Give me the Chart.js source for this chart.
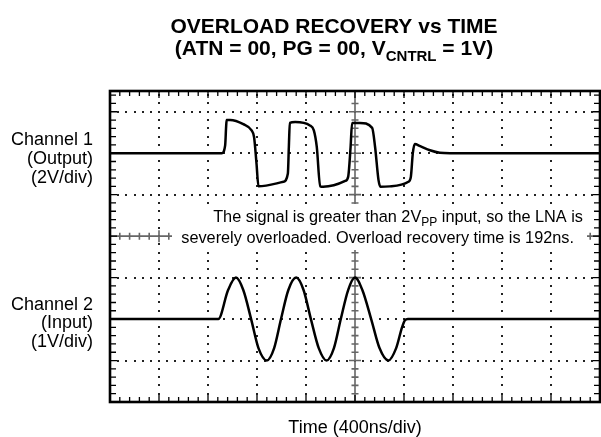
<!DOCTYPE html>
<html>
<head>
<meta charset="utf-8">
<script src="https://cdn.jsdelivr.net/npm/chart.js@4/dist/chart.umd.min.js"></script>
<style>
  body { margin: 0; background: #ffffff; }
  canvas { display: block; }
</style>
</head>
<body>
<canvas id="grafico-overload" width="601" height="437"></canvas>
<script>
// time in divisions (400ns/div), amplitude in divisions from the screen centre
const ch1Time = [0, 2.28, 2.35, 2.37, 2.38, 2.45, 2.72, 2.89, 2.94, 2.99, 3.03, 3.54, 3.63, 3.65, 3.67, 3.78,
                 4.08, 4.16, 4.22, 4.29, 4.35, 4.80, 4.86, 4.91, 4.94, 5.10, 5.35, 5.41, 5.48, 5.52, 5.71,
                 6.09, 6.14, 6.18, 6.22, 6.33, 6.53, 6.73, 6.94, 10];
const ch1Div  = [2, 2, 2.19, 2.64, 2.80, 2.80, 2.70, 2.55, 2.39, 1.75, 1.20, 1.31, 1.51, 2.15, 2.73, 2.75,
                 2.67, 2.55, 2.15, 1.20, 1.19, 1.33, 1.43, 2.15, 2.73, 2.73, 2.61, 2.15, 1.35, 1.19, 1.20,
                 1.31, 1.43, 2.00, 2.22, 2.17, 2.07, 2.01, 2.00, 2];

const ch2Time = [0, 2.21, 2.41, 2.57, 2.72, 2.88, 3.03, 3.20, 3.35, 3.49, 3.64, 3.80, 3.95, 4.10, 4.26,
                 4.42, 4.57, 4.71, 4.86, 5.00, 5.15, 5.33, 5.50, 5.68, 5.84, 5.96, 6.02, 6.08, 10];
const ch2Div  = [-2, -2, -1.30, -1.0, -1.3, -2.0, -2.7, -3.0, -2.7, -2.0, -1.3, -1.0, -1.3, -2.0, -2.7,
                 -3.0, -2.7, -2.0, -1.3, -1.0, -1.3, -2.0, -2.7, -3.0, -2.7, -2.2, -2.03, -2.0, -2];

// screen: 10 horizontal divisions, vertical from -4 to +3.5 divisions
const xDivs = [0, 10];
const yDivs = [-4, 3.5];

const channelLabels = [
    ['Channel 1', '(Output)', '(2V/div)'],
    ['Channel 2', '(Input)', '(1V/div)']
];
const channelBaselines = [[145, 164, 183], [310, 328, 347]];

const fonte = '"Liberation Sans", Arial, Helvetica, sans-serif';

function pontos(xs, ys) {
    return xs.map((v, i) => ({ x: v, y: ys[i] }));
}

// writes a line made of pieces, some of them as subscripts
function textoRico(ctx, partes, x, y, tam, peso, alinhar) {
    const subTam = Math.round(tam * 0.72);
    let largura = 0;
    partes.forEach(p => {
        ctx.font = peso + ' ' + (p.sub ? subTam : tam) + 'px ' + fonte;
        largura += ctx.measureText(p.t).width;
    });
    let cx = alinhar === 'center' ? x - largura / 2 : (alinhar === 'right' ? x - largura : x);
    ctx.textAlign = 'left';
    ctx.textBaseline = 'alphabetic';
    partes.forEach(p => {
        ctx.font = peso + ' ' + (p.sub ? subTam : tam) + 'px ' + fonte;
        ctx.fillText(p.t, cx, p.sub ? y + tam * 0.28 : y);
        cx += ctx.measureText(p.t).width;
    });
}

const graticula = {
    id: 'graticula',
    beforeDatasetsDraw(chart) {
        const { ctx, chartArea: a, scales: { x, y } } = chart;
        ctx.save();

        // dotted division lines
        ctx.fillStyle = '#222';
        for (let i = 1; i < 10; i++) {
            if (i === 5) continue;
            const px = Math.round(x.getPixelForValue(i));
            for (let k = 0; k <= 37; k++) {
                const py = y.getPixelForValue(yDivs[0] + k * 0.2);
                ctx.fillRect(px - 1, Math.round(py) - 1, 2, 2);
            }
        }
        for (let j = -3; j <= 3; j++) {
            if (j === 0) continue;
            const py = Math.round(y.getPixelForValue(j));
            for (let k = 0; k <= 60; k++) {
                const px = x.getPixelForValue(k / 6);
                ctx.fillRect(Math.round(px) - 1, py - 1, 2, 2);
            }
        }

        // centre axes with small ticks
        const cx = x.getPixelForValue(5);
        const cy = y.getPixelForValue(0);
        ctx.strokeStyle = '#666';
        ctx.lineWidth = 1.6;
        ctx.beginPath();
        ctx.moveTo(cx, a.top); ctx.lineTo(cx, a.bottom);
        ctx.moveTo(a.left, cy); ctx.lineTo(a.right, cy);
        for (let k = 1; k < 37; k++) {
            const v = yDivs[0] + k * 0.2;
            const py = y.getPixelForValue(v);
            const len = Math.abs(v - Math.round(v)) < 0.01 ? 6 : 3.5;
            ctx.moveTo(cx - len, py); ctx.lineTo(cx + len, py);
        }
        for (let k = 1; k < 50; k++) {
            const v = k * 0.2;
            const px = x.getPixelForValue(v);
            const len = Math.abs(v - Math.round(v)) < 0.01 ? 6 : 3.5;
            ctx.moveTo(px, cy - len); ctx.lineTo(px, cy + len);
        }
        ctx.stroke();

        // ticks along the frame
        ctx.strokeStyle = '#000';
        ctx.lineWidth = 1.3;
        ctx.beginPath();
        for (let k = 1; k < 50; k++) {
            const v = k * 0.2;
            const px = x.getPixelForValue(v);
            const len = Math.abs(v - Math.round(v)) < 0.01 ? 7 : 5;
            ctx.moveTo(px, a.top); ctx.lineTo(px, a.top + len);
            ctx.moveTo(px, a.bottom); ctx.lineTo(px, a.bottom - len);
        }
        for (let k = 1; k < 38; k++) {
            const v = yDivs[0] + k * 0.2;
            const py = y.getPixelForValue(v);
            const len = Math.abs(v - Math.round(v)) < 0.01 ? 7 : 6;
            ctx.moveTo(a.left, py); ctx.lineTo(a.left + len, py);
            ctx.moveTo(a.right, py); ctx.lineTo(a.right - len, py);
        }
        ctx.stroke();

        // white panel behind the note
        ctx.fillStyle = '#ffffff';
        ctx.fillRect(172, 204, 415, 46);
        ctx.restore();
    },
    afterDatasetsDraw(chart) {
        const { ctx, chartArea: a } = chart;
        ctx.save();
        ctx.strokeStyle = '#000';
        ctx.lineWidth = 2.6;
        ctx.strokeRect(a.left, a.top, a.right - a.left, a.bottom - a.top);

        ctx.fillStyle = '#000';
        textoRico(ctx, [{ t: 'The signal is greater than 2V' }, { t: 'PP', sub: true },
                        { t: ' input, so the LNA is' }], 583, 221.5, 16.3, 'normal', 'right');
        textoRico(ctx, [{ t: 'severely overloaded. Overload recovery time is 192ns.' }], 574, 242.5, 16.3, 'normal', 'right');
        ctx.restore();
    },
    afterDraw(chart) {
        const { ctx } = chart;
        ctx.save();
        ctx.fillStyle = '#000';
        textoRico(ctx, [{ t: 'OVERLOAD RECOVERY vs TIME' }], 334, 32.5, 21, 'bold', 'center');
        textoRico(ctx, [{ t: '(ATN = 00, PG = 00, V' }, { t: 'CNTRL', sub: true }, { t: ' = 1V)' }],
                  334, 55, 21, 'bold', 'center');

        channelLabels.forEach((linhas, c) => {
            linhas.forEach((txt, i) => {
                textoRico(ctx, [{ t: txt }], 93, channelBaselines[c][i], 18, 'normal', 'right');
            });
        });

        textoRico(ctx, [{ t: 'Time (400ns/div)' }], 355, 433, 18, 'normal', 'center');
        ctx.restore();
    }
};

document.addEventListener('DOMContentLoaded', function () {
    const ctx = document.getElementById('grafico-overload').getContext('2d');

    const traco = {
        borderColor: '#000',
        borderWidth: 2.5,
        pointRadius: 0,
        fill: false,
        cubicInterpolationMode: 'monotone',
        borderJoinStyle: 'round',
        borderCapStyle: 'round'
    };

    new Chart(ctx, {
        type: 'line',
        data: {
            datasets: [
                Object.assign({ label: 'Channel 1 (Output)', data: pontos(ch1Time, ch1Div) }, traco),
                Object.assign({ label: 'Channel 2 (Input)', data: pontos(ch2Time, ch2Div) }, traco)
            ]
        },
        options: {
            responsive: false,
            animation: false,
            devicePixelRatio: 1,
            layout: { padding: { left: 110, right: 1, top: 91, bottom: 35 } },
            plugins: {
                legend: { display: false },
                tooltip: { enabled: false },
                title: { display: false }
            },
            scales: {
                x: { type: 'linear', min: xDivs[0], max: xDivs[1], display: false },
                y: { type: 'linear', min: yDivs[0], max: yDivs[1], display: false }
            }
        },
        plugins: [graticula]
    });
});
</script>
</body>
</html>
